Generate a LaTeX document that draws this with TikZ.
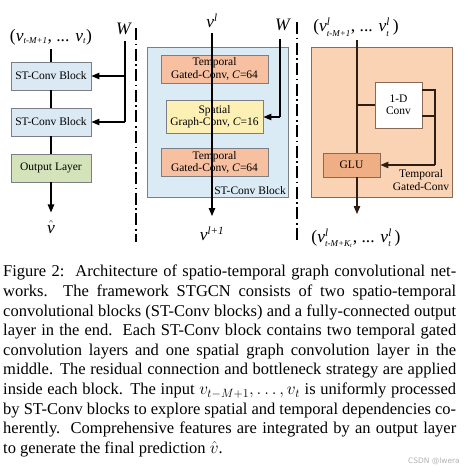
\documentclass[tikz,border=0pt]{standalone}
\usepackage{amsmath}
\usepackage{fontspec}
\setmainfont{Liberation Serif}
\newfontfamily\wmfont{DejaVu Sans}
\usetikzlibrary{arrows.meta}
\definecolor{stfill}{HTML}{DAE9F3}
\definecolor{outfill}{HTML}{D5E3BB}
\definecolor{bigblue}{HTML}{DBEBF5}
\definecolor{tempfill}{HTML}{F6C0A1}
\definecolor{spatfill}{HTML}{FDF0B5}
\definecolor{rightfill}{HTML}{FAD3B5}
\definecolor{glufill}{HTML}{EFAE83}
\definecolor{boxline}{HTML}{7A7F86}
\definecolor{brownline}{HTML}{2E1D12}
\definecolor{brownbox}{HTML}{8A6A55}
\newcommand\vv{\textit{v}}
\newcommand\sx[1]{\mbox{\fontsize{9}{9}\selectfont\textit{#1}}}
\newcommand\sy[1]{\mbox{\fontsize{11}{11}\selectfont\textit{#1}}}
\tikzset{
  blk/.style={draw=boxline, line width=0.9pt, inner sep=0pt, align=center,
    font=\fontsize{11.5}{12.5}\selectfont},
  stbox/.style={blk, fill=stfill, minimum width=80pt, minimum height=28pt},
  outbox/.style={blk, fill=outfill, minimum width=80pt, minimum height=28pt},
  tempbox/.style={blk, fill=tempfill, minimum width=107pt, minimum height=28pt},
  spatbox/.style={blk, fill=spatfill, minimum width=97pt, minimum height=33pt},
  biglabel/.style={inner sep=0pt, font=\fontsize{17.5}{18}\selectfont},
  conn/.style={line width=1.1pt, draw=black},
  arr/.style={conn, -{Triangle[length=8pt,width=6.5pt]}},
  bconn/.style={line width=1.1pt, draw=brownline},
  barr/.style={bconn, -{Triangle[length=8pt,width=6.5pt]}},
  sep/.style={line width=1.6pt, dash pattern=on 12pt off 3.5pt on 1.6pt off 3.5pt},
}
\begin{document}
\begin{tikzpicture}[x=1pt,y=-1pt]
\useasboundingbox (0,0) rectangle (474,474);
\fill[white] (0,0) rectangle (474,474);

% ---------- left panel ----------
\node[biglabel] (inL) at (51,37) {(\vv$_{\sx{t-M+1}}$, ... \vv$_{\sx{t}}$)};
\node[stbox] (st1) at (51,76) {ST-Conv Block};
\node[stbox] (st2) at (51,122) {ST-Conv Block};
\node[outbox] (out) at (51,168) {Output Layer};
\node[biglabel] (vhat) at (51,227) {$\hat{\textit{v}}$};
\node[biglabel] (W1) at (124,29) {\textit{W}};
\coordinate (wj1) at (125,76);
\coordinate (wj2) at (125,122);
\draw[conn] (inL.south) ++(0,4) -- (st1.north);
\draw[conn] (st1) -- (st2);
\draw[conn] (st2) -- (out);
\draw[arr] (out.south) -- ++(0,30) coordinate (vhatTip);
\draw[conn] (W1.south) ++(1,6) -- (wj2);
\draw[arr] (wj1) -- (st1.east);
\draw[arr] (wj2) -- (st2.east);

% separators
\coordinate (sepAtop) at (136,28);
\coordinate (sepAbot) at (136,242);
\coordinate (sepBtop) at (297,22);
\coordinate (sepBbot) at (297,242);
\draw[sep] (sepAtop) -- (sepAbot);
\draw[sep] (sepBtop) -- (sepBbot);

% ---------- middle panel ----------
\node[draw=boxline, line width=0.9pt, fill=bigblue, minimum width=141pt, minimum height=150pt, inner sep=0pt] (blockbg) at (217.5,122) {};
\node[tempbox] (t1) at (214.5,69) {Temporal\\Gated-Conv, \textit{C}=64};
\node[spatbox] (sp) at (214.5,116.5) {Spatial\\Graph-Conv, \textit{C}=16};
\node[tempbox] (t2) at (214.5,162.5) {Temporal\\Gated-Conv, \textit{C}=64};
\node[inner sep=0pt, font=\fontsize{11.5}{12}\selectfont, anchor=south east] (stlab) at (286,195) {ST-Conv Block};
\node[biglabel] (vl) at (212,21) {\vv$^{\sy{l}}$};
\node[biglabel] (vl1) at (212,234) {\vv$^{\sy{l+1}}$};
\node[biglabel] (W2) at (283,25) {\textit{W}};
\coordinate (vlTop) at (212,33);
\coordinate (vlBot) at (212,216);
\draw[arr] (vlTop) -- (vlBot);
\coordinate (w2top) at (280,39);
\coordinate (w2j) at (280,117);
\draw[conn] (w2top) -- (w2j);
\draw[arr] (w2j) -- (sp.east |- w2j);

% ---------- right panel ----------
\node[draw=brownbox, line width=0.9pt, fill=rightfill, minimum width=141pt, minimum height=150pt, inner sep=0pt] (tgbg) at (381.5,122) {};
\node[blk, draw=brownbox, fill=white, minimum width=47pt, minimum height=46pt] (conv) at (398.5,105) {1-D\\Conv};
\node[blk, draw=brownbox, fill=glufill, minimum width=57pt, minimum height=24pt] (glu) at (351.5,165) {GLU};
\node[inner sep=0pt, align=center, font=\fontsize{11.5}{12.5}\selectfont] (tglab) at (421,180) {Temporal\\Gated-Conv};
\node[biglabel] (inR) at (356,27) {(\vv$^{\sy{l}}_{\sx{t-M+1}}$, ... \vv$^{\sy{l}}_{\sx{t}}$\,)};
\node[biglabel] (outR) at (356,238) {(\vv$^{\sy{l}}_{\sx{t-M+K\textsubscript{t}}}$, ... \vv$^{\sy{l}}_{\sx{t}}$\,)};
\coordinate (rTop) at (357,40);
\coordinate (rBot) at (357,214);
\coordinate (rBr) at (357,105);
\coordinate (cA) at (435,90);
\coordinate (cB) at (435,116);
\coordinate (cC) at (435,165);
\draw[bconn] (rTop) -- (glu.north -| rTop);
\draw[barr] (glu.south -| rTop) -- (rBot);
\draw[bconn] (rBr) -- (conv.west |- rBr);
\draw[bconn] (conv.east |- cA) -- (cA) -- (cC);
\draw[bconn] (conv.east |- cB) -- (cB);
\draw[barr] (cC) -- (glu.east |- cC);

% ---------- caption ----------
\node[anchor=north west, inner sep=0pt, text width=453pt, align=justify,
  font=\fontsize{16.5}{19.6}\selectfont] (caption) at (3,265) {%
Figure 2:\ \ Architecture of spatio-temporal graph convolutional net-\linebreak
works.\ \ The framework STGCN consists of two spatio-temporal\linebreak
convolutional blocks (ST-Conv blocks) and a fully-connected output\linebreak
layer in the end.\ \ Each ST-Conv block contains two temporal gated\linebreak
convolution layers and one spatial graph convolution layer in the\linebreak
middle. The residual connection and bottleneck strategy are applied\linebreak
inside each block. The input $v_{t-M+1},\ldots,v_t$ is uniformly processed\linebreak
by ST-Conv blocks to explore spatial and temporal dependencies co-\linebreak
herently.\ \ Comprehensive features are integrated by an output layer\linebreak
to generate the final prediction $\hat{v}$.};
\node[anchor=east, inner sep=0pt, text=black!30, font=\wmfont\fontsize{7.5}{8}\selectfont] (wm) at (460,461) {CSDN @lwera};
\end{tikzpicture}
\end{document}
